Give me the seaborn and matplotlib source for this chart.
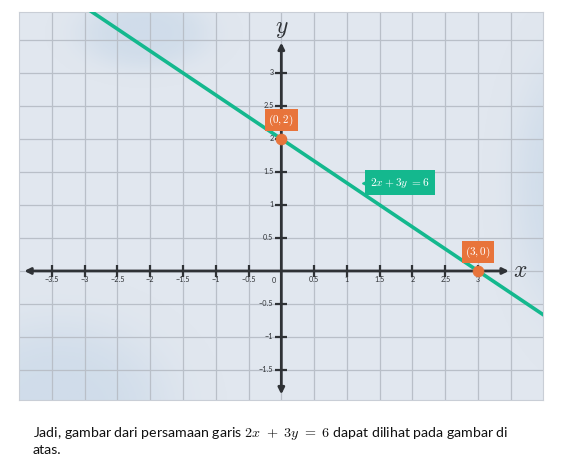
import numpy as np
import pandas as pd
import matplotlib.pyplot as plt
import seaborn as sns

# data
line_x = [-4.0, 4.0]
line_y = [4.667, -0.667]          # 2x + 3y = 6
point_x = [0, 3]
point_y = [2, 0]
point_labels = [r"$(0,2)$", r"$(3,0)$"]
x_ticks = [-3.5, -3, -2.5, -2, -1.5, -1, -0.5, 0.5, 1, 1.5, 2, 2.5, 3]
x_tick_labels = ["\u22123.5", "\u22123", "\u22122.5", "\u22122", "\u22121.5", "\u22121", "\u22120.5",
                 "0.5", "1", "1.5", "2", "2.5", "3"]
y_ticks = [-1.5, -1, -0.5, 0.5, 1, 1.5, 2, 2.5, 3]
y_tick_labels = ["\u22121.5", "\u22121", "\u22120.5", "0.5", "1", "1.5", "2", "2.5", "3"]
eq_label = r"$2x+3y\ =6$"
eq_pos = (1.81, 1.34)
caption = "Jadi, gambar dari persamaan garis $2x\\ +\\ 3y\\ =\\ 6$ dapat dilihat pada gambar di"
caption2 = "atas."

teal = "#14b88e"
orange = "#e8743b"
axis_col = "#2f3236"

sns.set_theme(style="white")
plt.rcParams["font.family"] = ["Lato", "DejaVu Sans"]
plt.rcParams["mathtext.fontset"] = "cm"

fig = plt.figure(figsize=(5.64, 4.68), dpi=100)
ax = fig.add_axes([19 / 564, 68 / 468, 524 / 564, 388 / 468])
xmin, xmax, ymin, ymax = -4.0, 3.99, -1.955, 3.924
ax.set_xlim(xmin, xmax)
ax.set_ylim(ymin, ymax)
ax.set_facecolor("#e1e7ef")

# soft background blobs
gx, gy = np.meshgrid(np.linspace(xmin, xmax, 300), np.linspace(ymin, ymax, 300))
blob = np.zeros_like(gx)
for cx, cy, sx, sy in [(-2.1, 3.6, 1.0, 0.55), (4.5, 1.3, 0.95, 2.0), (-3.4, -2.1, 1.7, 1.35)]:
    blob = np.maximum(blob, np.exp(-(((gx - cx) / sx) ** 2 + ((gy - cy) / sy) ** 2) ** 2))
rgba = np.zeros(gx.shape + (4,))
rgba[..., :3] = np.array([0.80, 0.855, 0.915])
rgba[..., 3] = np.clip(blob, 0, 1) * 0.8
ax.imshow(rgba, extent=[xmin, xmax, ymin, ymax], origin="lower", aspect="auto", zorder=0)

# grid
ax.set_xticks(np.arange(-3.5, 4, 0.5))
ax.set_yticks(np.arange(-1.5, 4, 0.5))
ax.grid(True, color="#b9bfc8", lw=0.9, zorder=1)
ax.tick_params(length=0, labelbottom=False, labelleft=False)
for s in ax.spines.values():
    s.set_color("#c9ced6")
    s.set_linewidth(0.8)

# axes with arrows
arrow = dict(arrowstyle="<|-|>", lw=2, color=axis_col, mutation_scale=9, shrinkA=0, shrinkB=0)
ax.annotate("", xy=(-3.92, 0), xytext=(3.47, 0), arrowprops=arrow, zorder=3)
ax.annotate("", xy=(0, 3.46), xytext=(0, -1.87), arrowprops=arrow, zorder=3)
ax.text(3.64, 0, "$x$", fontsize=17, ha="center", va="center", color=axis_col)
ax.text(0, 3.66, "$y$", fontsize=17, ha="center", va="center", color=axis_col)

# tick marks and labels
ax.plot(x_ticks, [0] * len(x_ticks), ls="none", marker="|", ms=8, mew=1.6, color=axis_col, zorder=3)
ax.plot([0] * len(y_ticks), y_ticks, ls="none", marker="_", ms=8, mew=1.6, color=axis_col, zorder=3)
for v, t in zip(x_ticks, x_tick_labels):
    ax.text(v, -0.13, t, fontsize=5.2, ha="center", va="center", color=axis_col)
for v, t in zip(y_ticks, y_tick_labels):
    ax.text(-0.12, v, t, fontsize=5.2, ha="right", va="center", color=axis_col)
ax.text(-0.11, -0.15, "0", fontsize=5.2, ha="center", va="center", color=axis_col)

# the line and its points
df_line = pd.DataFrame({"x": line_x, "y": line_y})
sns.lineplot(data=df_line, x="x", y="y", color=teal, lw=2.6, ax=ax, zorder=4)
df_pts = pd.DataFrame({"x": point_x, "y": point_y})
sns.scatterplot(data=df_pts, x="x", y="y", color=orange, s=60, edgecolor=orange, ax=ax, zorder=6)
ax.set_xlabel("")
ax.set_ylabel("")

for px, py, lab in zip(point_x, point_y, point_labels):
    ax.annotate(lab, xy=(px, py), xytext=(0, 13.5), textcoords="offset points",
                ha="center", va="center", fontsize=8, color="white",
                bbox=dict(boxstyle="square,pad=0.3", fc=orange, ec="none"), zorder=7)

ax.text(eq_pos[0], eq_pos[1], eq_label, fontsize=8.2, ha="center", va="center", color="white",
        bbox=dict(boxstyle="square,pad=0.45", fc=teal, ec="none"), zorder=7)
ax.plot([1.29], [eq_pos[1]], marker="<", ms=6, color=teal, mec=teal, zorder=8)

fig.text(33 / 564, 1 - 437 / 468, caption, fontsize=10.2, color="#111111",
         family=["Lato", "DejaVu Sans"], va="baseline")
fig.text(33 / 564, 1 - 454 / 468, caption2, fontsize=10.2, color="#111111",
         family=["Lato", "DejaVu Sans"], va="baseline")

fig.savefig("out.png", dpi=100)
